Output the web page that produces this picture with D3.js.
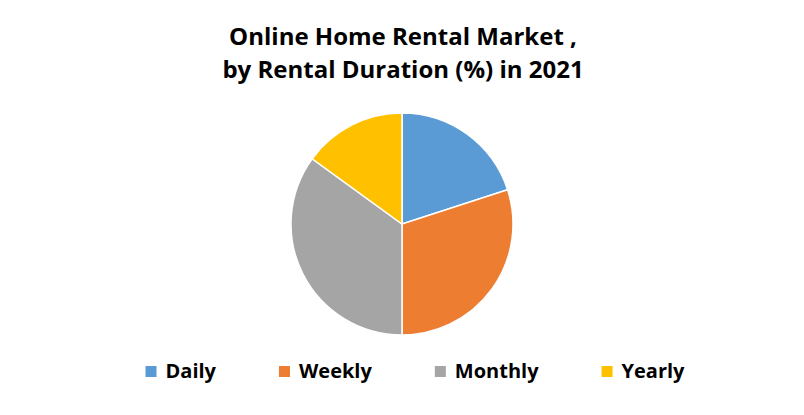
<!DOCTYPE html>
<html>
<head>
<meta charset="utf-8">
<script src="https://cdn.jsdelivr.net/npm/d3@7"></script>
<style>
  body { margin: 0; background: #fff; }
  text { font-family: "Open Sans", Lato, sans-serif; font-weight: bold; fill: #000; }
</style>
</head>
<body>
<div id="chart"></div>
<script>
// Data
const categories = ['Daily', 'Weekly', 'Monthly', 'Yearly'];
const shares = [20, 30, 35, 15];
const colors = ['#5B9BD5', '#ED7D31', '#A5A5A5', '#FFC000'];
const titleLines = ['Online Home Rental Market ,', 'by Rental Duration (%) in 2021'];

const width = 804;
const height = 415;

const svg = d3.select('#chart')
  .append('svg')
  .attr('width', width)
  .attr('height', height);

// Title
svg.selectAll('.title')
  .data(titleLines)
  .enter()
  .append('text')
  .attr('class', 'title')
  .attr('x', 403)
  .attr('y', (d, i) => 45 + i * 33)
  .attr('text-anchor', 'middle')
  .style('font-size', '24px')
  .text(d => d);

// Pie
const radius = 111;
const g = svg.append('g')
  .attr('transform', 'translate(402,224)');

const pie = d3.pie().sort(null);
const arc = d3.arc().innerRadius(0).outerRadius(radius);

g.selectAll('path')
  .data(pie(shares))
  .enter()
  .append('path')
  .attr('d', arc)
  .attr('fill', (d, i) => colors[i])
  .attr('stroke', '#fff')
  .attr('stroke-width', 1.5);

// Legend
const legend = svg.append('g');
const items = legend.selectAll('g')
  .data(categories)
  .enter()
  .append('g');

items.append('rect')
  .attr('width', 11)
  .attr('height', 11)
  .attr('y', 366)
  .attr('fill', (d, i) => colors[i]);

items.append('text')
  .attr('x', 20)
  .attr('y', 378)
  .style('font-size', '20px')
  .text(d => d);

// lay out items side by side
let x = 0;
items.each(function () {
  const w = d3.select(this).select('text').node().getComputedTextLength();
  d3.select(this).attr('data-x', x);
  x += 20 + w + 63;
});
const total = x - 63;
const start = 415 - total / 2;
items.attr('transform', function () {
  return `translate(${start + +d3.select(this).attr('data-x')},0)`;
});
</script>
</body>
</html>
